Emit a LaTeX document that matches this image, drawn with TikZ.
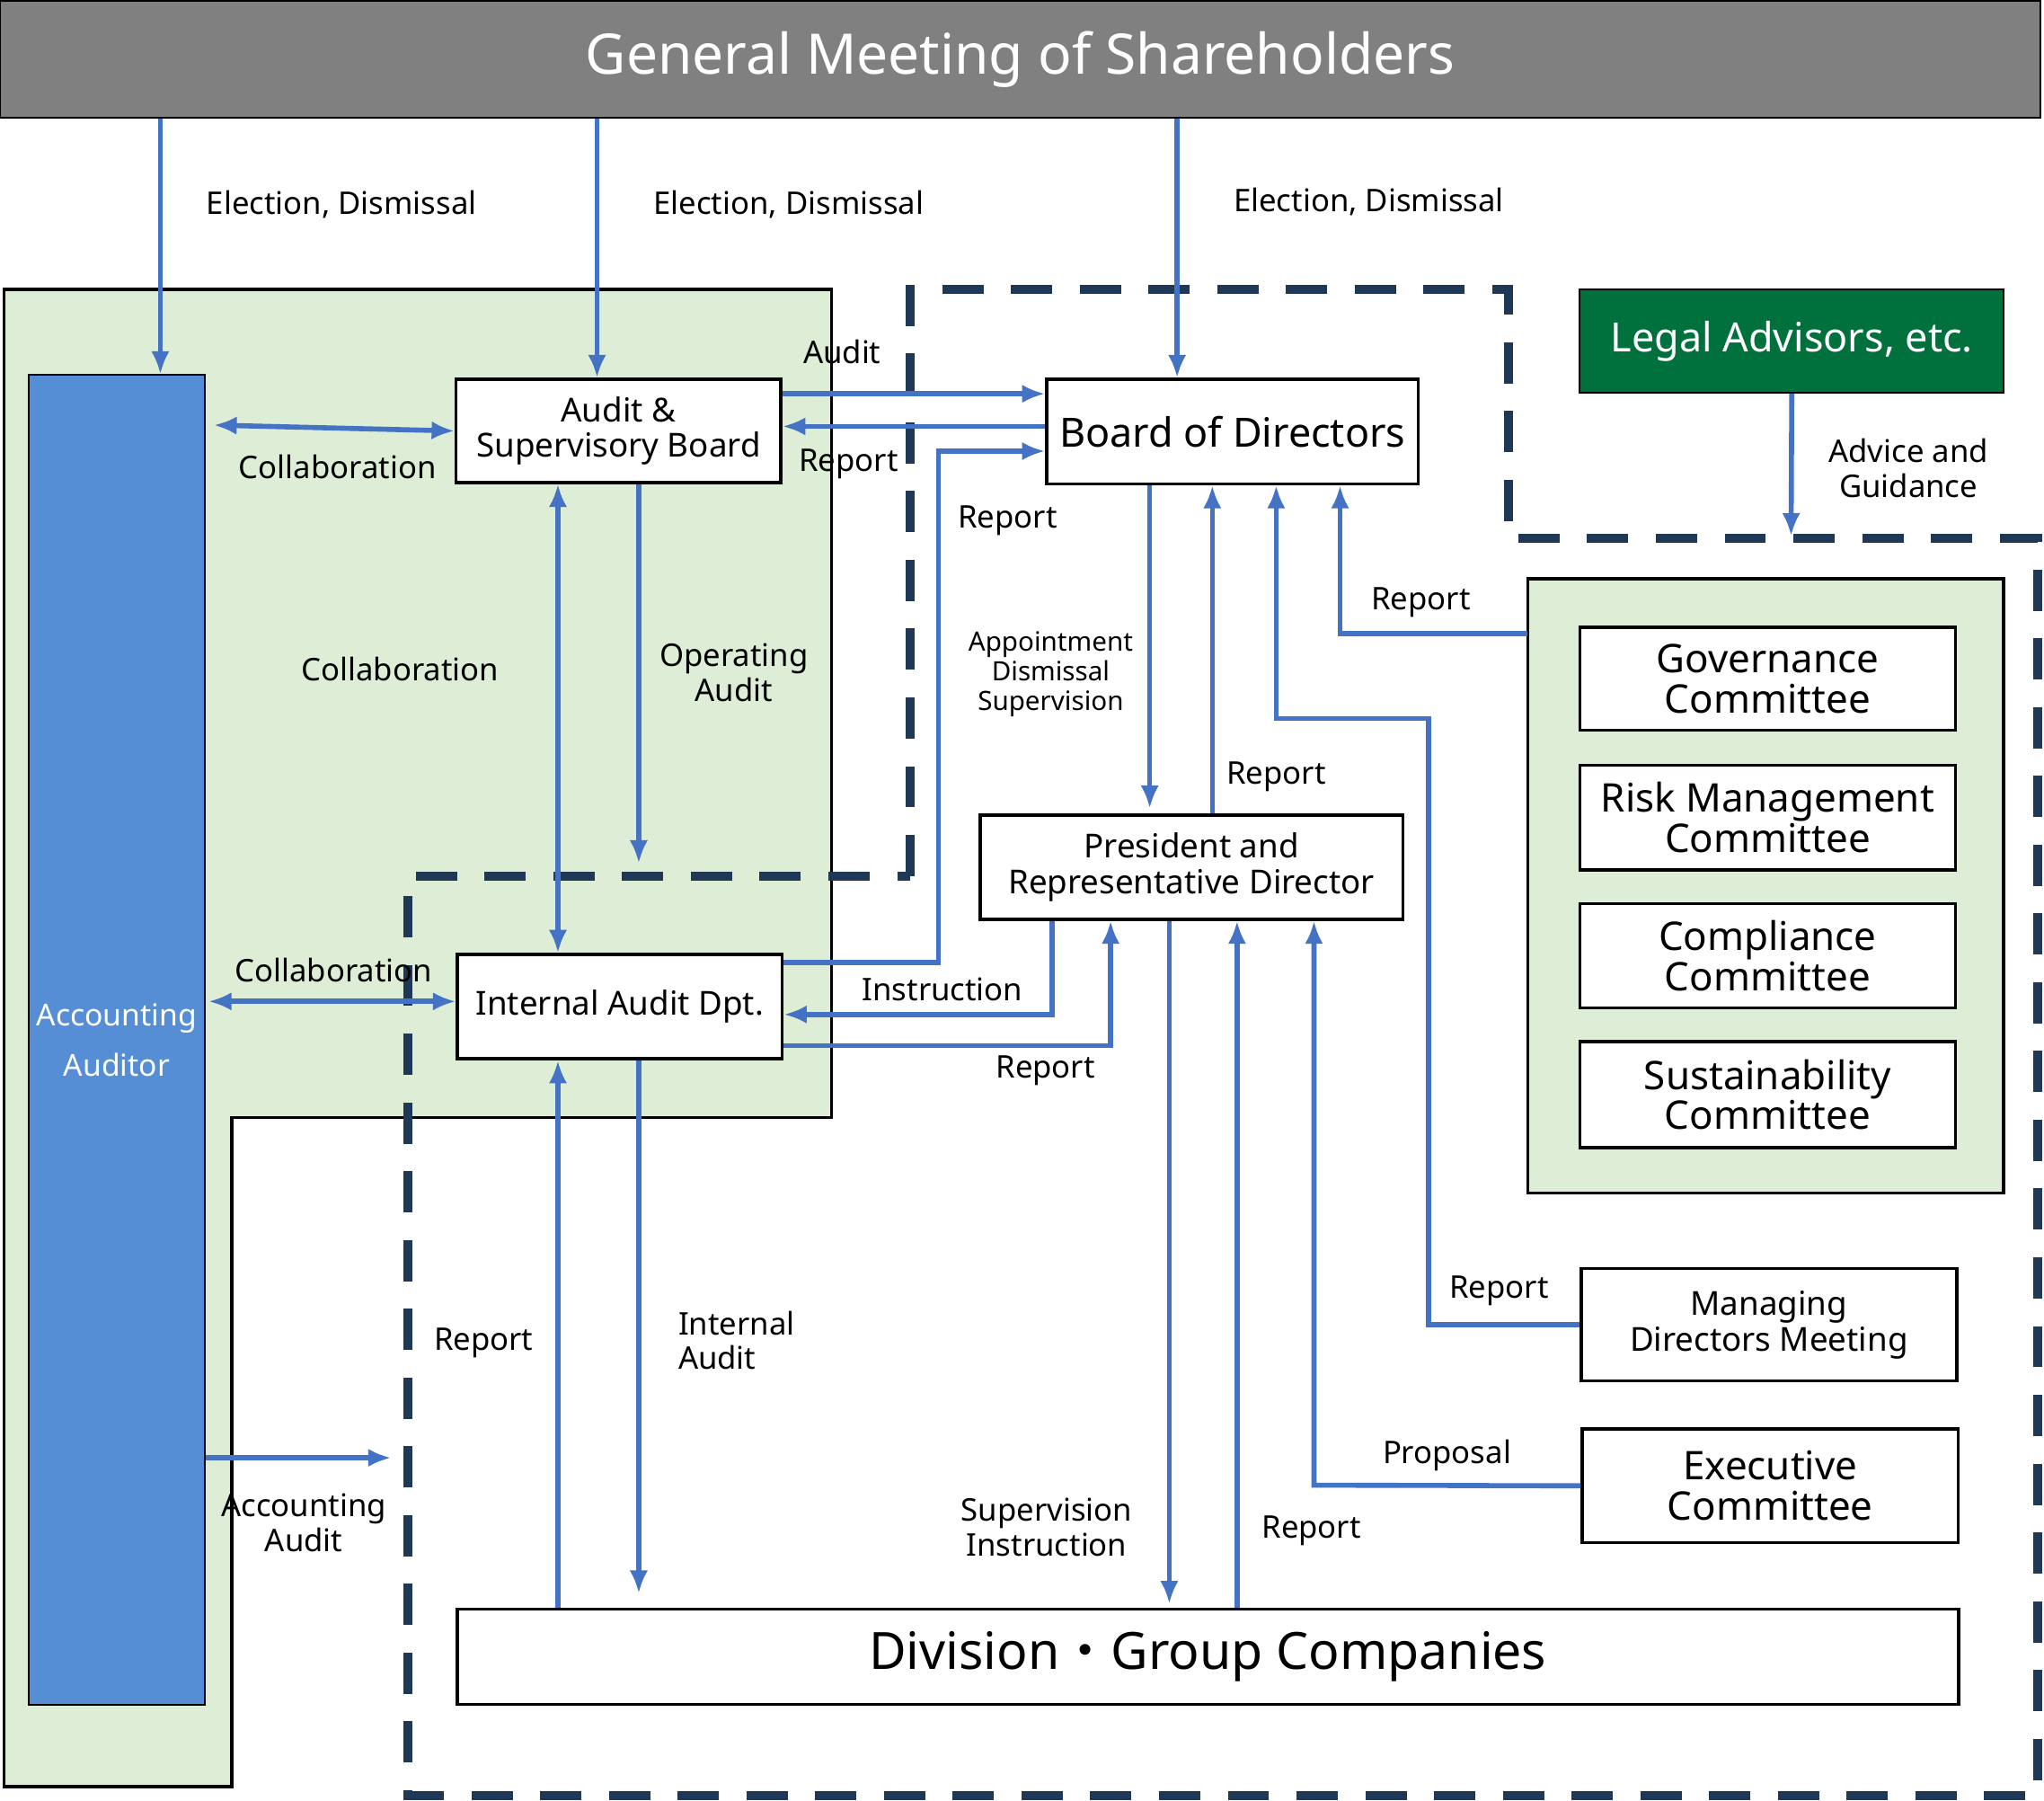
\documentclass[tikz,border=0pt]{standalone}
\usepackage{fontspec}
\setmainfont{Noto Sans}
\newfontfamily\cjkfont{Noto Sans CJK JP}
\usetikzlibrary{arrows.meta}
\definecolor{hdgray}{RGB}{128,128,128}
\definecolor{lgreen}{RGB}{222,237,214}
\definecolor{dgreen}{RGB}{0,112,60}
\definecolor{aublue}{RGB}{85,142,213}
\definecolor{arblue}{RGB}{68,114,196}
\definecolor{navy}{RGB}{31,56,86}
\tikzset{
  box/.style={draw, fill=white, line width=0.7pt, align=center, inner sep=0pt, font=\fontsize{7.2}{7.8}\selectfont},
  bigbox/.style={box, font=\fontsize{8.6}{8.8}\selectfont},
  lab/.style={align=center, font=\fontsize{6.8}{7.6}\selectfont\bfseries},
  arr/.style={-{Latex[length=5pt,width=4pt]}, arblue, line width=1.1pt},
  darr/.style={{Latex[length=5pt,width=4pt]}-{Latex[length=5pt,width=4pt]}, arblue, line width=1.1pt},
  dashline/.style={navy, line width=2pt, dash pattern=on 9pt off 6pt}
}
\begin{document}
\begin{tikzpicture}[x=0.01cm,y=-0.01cm]
\useasboundingbox (0,0) rectangle (1568,1381);

% regions
\fill[lgreen, draw=black, line width=0.7pt] (3,222) -- (638,222) -- (638,857) -- (178,857) -- (178,1370) -- (3,1370) -- cycle;
\fill[lgreen, draw=black, line width=0.7pt] (1172,444) rectangle (1537,915);
\draw[dashline] (698,672) -- (698,222) -- (1157,222) -- (1157,413) -- (1563,413) -- (1563,1377) -- (313,1377) -- (313,672) -- cycle;

% boxes
\node[draw=black, fill=hdgray, text=white, minimum width=15.64cm, minimum height=0.9cm, font=\fontsize{12.2}{14}\selectfont] (gms) at (782.5,45.5) {General Meeting of Shareholders};
\node[draw=black, fill=aublue, text=white, inner sep=0pt, minimum width=1.35cm, minimum height=10.19cm, align=center, font=\fontsize{6.6}{11}\selectfont] (aa) at (89.5,797.5) {Accounting\\Auditor};
\node[box, minimum width=2.49cm, minimum height=0.79cm] (asb) at (474.5,330.5) {Audit \&\\Supervisory Board};
\node[box, minimum width=2.85cm, minimum height=0.8cm, font=\fontsize{8.8}{10}\selectfont] (bod) at (945.5,331) {Board of Directors};
\node[box, minimum width=3.24cm, minimum height=0.8cm] (pres) at (914,665) {President and\\Representative Director};
\node[box, minimum width=2.49cm, minimum height=0.8cm] (iad) at (475.5,772) {Internal Audit Dpt.};
\node[draw=black, fill=dgreen, text=white, minimum width=3.25cm, minimum height=0.79cm, font=\fontsize{8.8}{10}\selectfont] (legal) at (1374.5,261.5) {Legal Advisors, etc.};
\node[bigbox, minimum width=2.88cm, minimum height=0.79cm] (gov) at (1356,520.5) {Governance\\Committee};
\node[bigbox, minimum width=2.88cm, minimum height=0.8cm] (risk) at (1356,627) {Risk Management\\Committee};
\node[bigbox, minimum width=2.88cm, minimum height=0.8cm] (comp) at (1356,733) {Compliance\\Committee};
\node[bigbox, minimum width=2.88cm, minimum height=0.81cm] (sust) at (1356,839.5) {Sustainability\\Committee};
\node[box, minimum width=2.88cm, minimum height=0.86cm] (mdm) at (1357,1016) {Managing\\Directors Meeting};
\node[bigbox, minimum width=2.88cm, minimum height=0.87cm] (exec) at (1358,1139.5) {Executive\\Committee};
\node[box, minimum width=11.51cm, minimum height=0.73cm, font=\fontsize{11.2}{12}\selectfont] (div) at (926.5,1270.5) {Division{\cjkfont ・}Group Companies};
\coordinate (cmt) at (1172,486);

% connectors
\draw[arr] (gms.south -| 123,0) -- (aa.north -| 123,0);
\draw[arr] (gms.south -| 458,0) -- (asb.north -| 458,0);
\draw[arr] (gms.south -| 903,0) -- (bod.north -| 903,0);
\draw[arr] (asb.east |- 0,302) -- (bod.west |- 0,302);
\draw[arr] (bod.west |- 0,327) -- (asb.east |- 0,327);
\draw[darr] (164,326) -- (asb.west);
\draw[darr] (asb.south -| 428,0) -- (iad.north -| 428,0);
\draw[arr] (asb.south -| 490,0) -- (490,662);
\draw[arr] (iad.east |- 0,738) -- (720,738) -- (720,346) -- (bod.west |- 0,346);
\draw[darr] (160,768) -- (iad.west |- 0,768);
\draw[arr] (pres.south -| 807,0) -- (807,778) -- (iad.east |- 0,778);
\draw[arr] (iad.east |- 0,802) -- (852,802) -- (pres.south -| 852,0);
\draw[arr] (bod.south -| 882,0) -- (882,620);
\draw[arr] (pres.north -| 930,0) -- (bod.south -| 930,0);
\draw[arr] (mdm.west) -- (1096,1016) -- (1096,551) -- (979,551) -- (bod.south -| 979,0);
\draw[arr] (cmt) -- (1028,486) -- (bod.south -| 1028,0);
\draw[arr] (legal.south) -- (1374,411);
\draw[arr] (exec.west) -- (1008,1139) -- (pres.south -| 1008,0);
\draw[arr] (pres.south -| 897,0) -- (897,1230);
\draw[arr] (div.north -| 949,0) -- (pres.south -| 949,0);
\draw[arr] (div.north -| 428,0) -- (iad.south -| 428,0);
\draw[arr] (iad.south -| 490,0) -- (490,1222);
\draw[arr] (aa.east |- 0,1118) -- (300,1118);

% labels
\node[lab] (l1) at (262,157) {Election, Dismissal};
\node[lab] (l2) at (605,157) {Election, Dismissal};
\node[lab] (l3) at (1050,155) {Election, Dismissal};
\node[lab] (l4) at (646,270) {Audit};
\node[lab] (l5) at (651,356) {Report};
\node[lab] (l6) at (259,358) {Collaboration};
\node[lab] (l7) at (307,513) {Collaboration};
\node[lab] (l8) at (563,516) {Operating\\Audit};
\node[lab] (l9) at (773,399) {Report};
\node[lab] (l10) at (256,744) {Collaboration};
\node[lab] (l11) at (723,759) {Instruction};
\node[lab] (l12) at (802,821) {Report};
\node[lab, font=\fontsize{5.8}{6.4}\selectfont\bfseries] (l13) at (806,517) {Appointment\\Dismissal\\Supervision};
\node[lab] (l14) at (979,596) {Report};
\node[lab] (l15) at (1090,462) {Report};
\node[lab] (l16) at (1464,359) {Advice and\\Guidance};
\node[lab] (l17) at (1150,990) {Report};
\node[lab] (l18) at (1110,1116) {Proposal};
\node[lab] (l19) at (803,1171) {Supervision\\Instruction};
\node[lab] (l20) at (1006,1174) {Report};
\node[lab] (l21) at (371,1030) {Report};
\node[lab, align=left] (l22) at (565,1028) {Internal\\Audit};
\node[lab] (l23) at (233,1168) {Accounting\\Audit};
\end{tikzpicture}
\end{document}
